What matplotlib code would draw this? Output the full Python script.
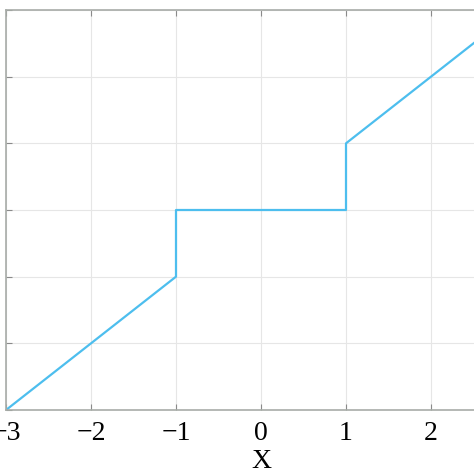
import matplotlib
matplotlib.use('Agg')
import matplotlib.pyplot as plt

# piecewise curve (dead-zone style with jumps)
x_pts = [-3, -1, -1, 1, 1, 3]
y_pts = [-3, -1, 0, 0, 1, 3]
x_ticks = [-3, -2, -1, 0, 1, 2, 3]
y_ticks = [-3, -2, -1, 0, 1, 2, 3]

plt.rcParams['font.family'] = ['Liberation Serif', 'DejaVu Serif']
plt.rcParams['axes.unicode_minus'] = True

fig = plt.figure(figsize=(4.74, 4.74), dpi=100)
fig.patch.set_facecolor('white')
ax = fig.add_axes([6/474, 1 - 410/474, 510/474, 400/474])

ax.plot(x_pts, y_pts, color='#4DBEEE', lw=1.6)
ax.set_xlim(-3, 3)
ax.set_ylim(-3, 3)
ax.set_xticks(x_ticks)
ax.set_yticks(y_ticks)
ax.grid(True, color='#e6e6e6', lw=0.8)
ax.set_axisbelow(True)
for s in ax.spines.values():
    s.set_color('#a8aca8')
    s.set_linewidth(1.2)
ax.tick_params(direction='in', length=4, color='#8a8a8a', top=True, right=True,
               labelsize=20, pad=8, labelcolor='black')
ax.set_xlabel('X', fontsize=20, labelpad=2)

plt.savefig('out.png', dpi=100, facecolor='white')
